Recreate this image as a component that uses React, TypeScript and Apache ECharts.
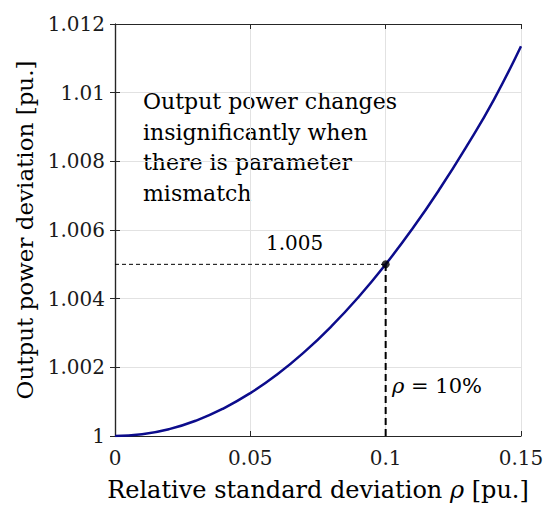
import React, { useEffect, useRef } from "react";
import * as echarts from "echarts";

// relative standard deviation rho [pu.]
const rho = [0, 0.01, 0.02, 0.03, 0.04, 0.05, 0.06, 0.07, 0.08, 0.09, 0.1, 0.11, 0.12, 0.13, 0.14, 0.15];
// output power deviation [pu.]
const power = [1, 1.00005, 1.0002, 1.00045, 1.0008, 1.00125, 1.0018, 1.00245, 1.0032, 1.00405, 1.005, 1.00605, 1.0072, 1.00845, 1.0098, 1.01135];

const markPoint = [0.1, 1.005];
const xTicks = [0, 0.05, 0.1, 0.15];
const yTicks = [1, 1.002, 1.004, 1.006, 1.008, 1.01, 1.012];

const FONT = "DejaVu Serif";

const App = () => {
  const chartRef = useRef(null);

  useEffect(() => {
    document.body.style.margin = "0";
    const chart = echarts.init(chartRef.current, null, { renderer: "svg" });

    const boxAxis = {
      axisLine: { show: true, lineStyle: { color: "#262626", width: 1.2 } },
      axisTick: { show: true, inside: true, length: 5, lineStyle: { color: "#262626" } },
      axisLabel: { show: false },
      splitLine: { show: false },
    };

    chart.setOption({
      animation: false,
      grid: { left: 115, right: 29, top: 24, bottom: 79 },
      xAxis: [
        {
          type: "value",
          min: xTicks[0],
          max: xTicks[xTicks.length - 1],
          interval: 0.05,
          name: "Relative standard deviation {i|ρ} [pu.]",
          nameLocation: "middle",
          nameGap: 42,
          nameTextStyle: {
            fontFamily: FONT,
            fontSize: 24,
            color: "#000",
            rich: { i: { fontFamily: FONT, fontStyle: "italic", fontSize: 24, color: "#000" } },
          },
          axisLine: { show: true, lineStyle: { color: "#262626", width: 1.2 } },
          axisTick: { show: true, inside: true, length: 5, lineStyle: { color: "#262626" } },
          axisLabel: {
            fontFamily: FONT,
            fontSize: 20,
            color: "#1a1a1a",
            margin: 12,
            formatter: (v: number) => String(Number(v.toFixed(3))),
          },
          splitLine: { show: true, lineStyle: { color: "#e2e2e2", width: 1 } },
        },
        { ...boxAxis, type: "value", position: "top", min: 0, max: 0.15, interval: 0.05 },
      ],
      yAxis: [
        {
          type: "value",
          min: yTicks[0],
          max: yTicks[yTicks.length - 1],
          interval: 0.002,
          name: "Output power deviation [pu.]",
          nameLocation: "middle",
          nameGap: 78,
          nameTextStyle: { fontFamily: FONT, fontSize: 23, color: "#000" },
          axisLine: { show: true, lineStyle: { color: "#262626", width: 1.2 } },
          axisTick: { show: true, inside: true, length: 5, lineStyle: { color: "#262626" } },
          axisLabel: {
            fontFamily: FONT,
            fontSize: 20,
            color: "#1a1a1a",
            margin: 10,
            formatter: (v: number) => String(Number(v.toFixed(3))),
          },
          splitLine: { show: true, lineStyle: { color: "#e2e2e2", width: 1 } },
        },
        { ...boxAxis, type: "value", position: "right", min: 1, max: 1.012, interval: 0.002 },
      ],
      series: [
        {
          type: "line",
          data: rho.map((x, i) => [x, power[i]]),
          smooth: true,
          symbol: "none",
          lineStyle: { color: "#0c0c8c", width: 2.5 },
          z: 3,
        },
        {
          type: "line",
          data: [[xTicks[0], markPoint[1]], markPoint],
          symbol: "none",
          lineStyle: { color: "#000", width: 1, type: [4, 3] },
          z: 2,
        },
        {
          type: "line",
          data: [[markPoint[0], yTicks[0]], markPoint],
          symbol: "none",
          lineStyle: { color: "#000", width: 2, type: [7, 4] },
          z: 2,
        },
        {
          type: "scatter",
          data: [markPoint],
          symbolSize: 8,
          itemStyle: { color: "#000" },
          z: 4,
        },
      ],
      graphic: [
        {
          type: "text",
          left: 143,
          top: 86,
          style: {
            text: "Output power changes\ninsignificantly when\nthere is parameter\nmismatch",
            fontFamily: FONT,
            fontSize: 22,
            lineHeight: 30.7,
            fill: "#000",
          },
        },
        {
          type: "text",
          left: 266,
          top: 233,
          style: { text: "1.005", fontFamily: FONT, fontSize: 20, fill: "#000" },
        },
        {
          type: "text",
          left: 392,
          top: 375,
          style: {
            text: "{i|ρ} = 10%",
            fontFamily: FONT,
            fontSize: 21,
            fill: "#000",
            rich: { i: { fontFamily: FONT, fontStyle: "italic", fontSize: 21, fill: "#000" } },
          },
        },
      ],
    });

    return () => {
      chart.dispose();
    };
  }, []);

  return <div ref={chartRef} style={{ width: "550px", height: "515px" }}></div>;
};

export default App;
